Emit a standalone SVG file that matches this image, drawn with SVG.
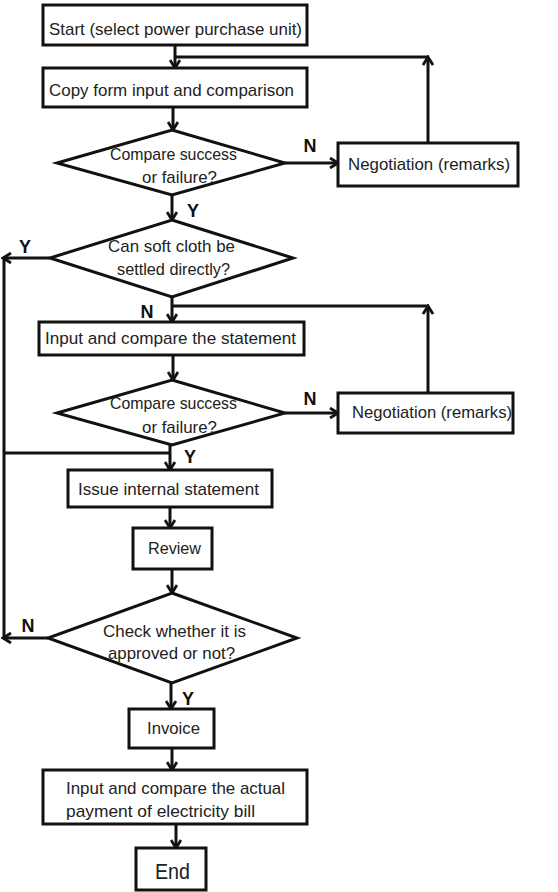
<svg xmlns="http://www.w3.org/2000/svg" width="558" height="892" viewBox="0 0 558 892">
<style>
.box{fill:#fff;stroke:#111;stroke-width:3}
.dia{fill:#fff;stroke:#111;stroke-width:3;stroke-linejoin:miter}
.t{font-family:"Liberation Sans",Arial,sans-serif;font-size:17px;fill:#222}
.lab{font-family:"Liberation Sans",Arial,sans-serif;font-size:18px;font-weight:bold;fill:#111;text-anchor:middle}
.ln{fill:none;stroke:#111;stroke-width:3}
.ar{fill:none;stroke:#111;stroke-width:3;marker-end:url(#ah)}
</style>
<defs>
<marker id="ah" markerWidth="12" markerHeight="12" viewBox="0 0 12 12" refX="10" refY="6" orient="auto" markerUnits="userSpaceOnUse">
<polyline points="2,1 10,6 2,11" fill="none" stroke="#111" stroke-width="2.8"/>
</marker>
</defs>
<rect width="558" height="892" fill="#fff"/>
<g id="connectors">
<path class="ar" d="M175,45 V68"/>
<path class="ar" d="M428,143 V57"/>
<path class="ln" d="M429,57 H175"/>
<path class="ar" d="M173,107 V130"/>
<path class="ar" d="M285,163 H338"/>
<path class="ar" d="M172,195 V220"/>
<path class="ar" d="M50,258 H3"/>
<path class="ln" d="M4,257 V639"/>
<path class="ln" d="M3,453 H171"/>
<path class="ar" d="M172,297 V322"/>
<path class="ar" d="M428,393 V306"/>
<path class="ln" d="M429,306 H172"/>
<path class="ar" d="M173,355 V380"/>
<path class="ar" d="M285,413 H338"/>
<path class="ar" d="M170,445 V470"/>
<path class="ar" d="M170,507 V528"/>
<path class="ar" d="M172,569 V593"/>
<path class="ar" d="M48,638 H3"/>
<path class="ar" d="M171,683 V709"/>
<path class="ar" d="M172,748 V770"/>
<path class="ar" d="M176,824 V848"/>
</g>
<g id="labels">
<text class="lab" x="310" y="152">N</text>
<text class="lab" x="193" y="217">Y</text>
<text class="lab" x="25" y="253">Y</text>
<text class="lab" x="147" y="318">N</text>
<text class="lab" x="310" y="405">N</text>
<text class="lab" x="190" y="463">Y</text>
<text class="lab" x="28" y="632">N</text>
<text class="lab" x="188" y="705">Y</text>
</g>
<g id="start">
<rect class="box" x="43" y="5" width="264" height="40"/>
<text class="t" x="49" y="35" textLength="253" lengthAdjust="spacingAndGlyphs">Start (select power purchase unit)</text>
</g>
<g id="copy">
<rect class="box" x="43" y="68" width="264" height="39"/>
<text class="t" x="49" y="96" textLength="245" lengthAdjust="spacingAndGlyphs">Copy form input and comparison</text>
</g>
<g id="d1">
<polygon class="dia" points="172,130 285,163 172,195 57,163"/>
<text class="t" x="110" y="160" textLength="127" lengthAdjust="spacingAndGlyphs">Compare success</text>
<text class="t" x="142" y="183" textLength="75" lengthAdjust="spacingAndGlyphs">or failure?</text>
</g>
<g id="neg1">
<rect class="box" x="338" y="143" width="180" height="43"/>
<text class="t" x="348" y="170" textLength="162" lengthAdjust="spacingAndGlyphs">Negotiation (remarks)</text>
</g>
<g id="d2">
<polygon class="dia" points="172,220 293,258 172,297 50,258"/>
<text class="t" x="108" y="252" textLength="127" lengthAdjust="spacingAndGlyphs">Can soft cloth be</text>
<text class="t" x="117" y="275" textLength="113" lengthAdjust="spacingAndGlyphs">settled directly?</text>
</g>
<g id="input">
<rect class="box" x="39" y="322" width="265" height="33"/>
<text class="t" x="45" y="344" textLength="251" lengthAdjust="spacingAndGlyphs">Input and compare the statement</text>
</g>
<g id="d3">
<polygon class="dia" points="172,380 285,413 172,445 57,413"/>
<text class="t" x="110" y="409" textLength="127" lengthAdjust="spacingAndGlyphs">Compare success</text>
<text class="t" x="142" y="433" textLength="75" lengthAdjust="spacingAndGlyphs">or failure?</text>
</g>
<g id="neg2">
<rect class="box" x="338" y="393" width="175" height="40"/>
<text class="t" x="352" y="418" textLength="160" lengthAdjust="spacingAndGlyphs">Negotiation (remarks)</text>
</g>
<g id="issue">
<rect class="box" x="68" y="470" width="204" height="37"/>
<text class="t" x="78" y="495" textLength="181" lengthAdjust="spacingAndGlyphs">Issue internal statement</text>
</g>
<g id="review">
<rect class="box" x="133" y="528" width="79" height="41"/>
<text class="t" x="148" y="554" textLength="53" lengthAdjust="spacingAndGlyphs">Review</text>
</g>
<g id="d4">
<polygon class="dia" points="172,593 297,638 172,683 48,638"/>
<text class="t" x="103" y="637" textLength="143" lengthAdjust="spacingAndGlyphs">Check whether it is</text>
<text class="t" x="108" y="659" textLength="127" lengthAdjust="spacingAndGlyphs">approved or not?</text>
</g>
<g id="invoice">
<rect class="box" x="129" y="709" width="85" height="39"/>
<text class="t" x="147" y="734" textLength="53" lengthAdjust="spacingAndGlyphs">Invoice</text>
</g>
<g id="actual">
<rect class="box" x="43" y="770" width="264" height="54"/>
<text class="t" x="66" y="794" textLength="219" lengthAdjust="spacingAndGlyphs">Input and compare the actual</text>
<text class="t" x="66" y="817" textLength="189" lengthAdjust="spacingAndGlyphs">payment of electricity bill</text>
</g>
<g id="end">
<rect class="box" x="136" y="848" width="70" height="42"/>
<text class="t" x="155" y="879" style="font-size:22px" textLength="35" lengthAdjust="spacingAndGlyphs">End</text>
</g>
</svg>
